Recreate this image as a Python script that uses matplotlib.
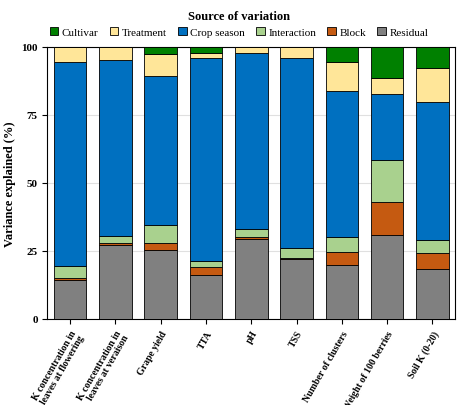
import numpy as np
import matplotlib.pyplot as plt

plt.rcParams['font.family'] = 'Liberation Serif'

categories = ['K concentration in\nleaves at flowering', 'K concentration in\nleaves at veraison',
              'Grape yield', 'TTA', 'pH', 'TSS', 'Number of clusters',
              'Weight of 100 berries', 'Soil K (0-20)']
# cumulative tops
residual = [14.3, 27.3, 25.3, 16.0, 29.2, 22.1, 19.7, 31.0, 18.4]
block_top = [14.9, 27.8, 27.8, 19.0, 30.2, 22.5, 24.6, 42.9, 24.3]
inter_top = [19.4, 30.5, 34.5, 21.4, 33.2, 26.0, 30.2, 58.6, 29.0]
crop_top = [94.3, 95.3, 89.2, 95.9, 97.8, 95.8, 83.9, 82.7, 79.7]
treat_top = [99.8, 100, 97.5, 97.9, 99.8, 100, 94.6, 88.6, 92.3]
cult_top = [100, 100, 100, 100, 100, 100, 100, 100, 100]

tops = [residual, block_top, inter_top, crop_top, treat_top, cult_top]
names = ['Residual', 'Block', 'Interaction', 'Crop season', 'Treatment', 'Cultivar']
colors = ['#808080', '#c55a11', '#a9d18e', '#0070c0', '#ffe699', '#008000']

fig, ax = plt.subplots(figsize=(4.74, 4.06), dpi=100)
x = np.arange(len(categories))
bottom = np.zeros(len(categories))
handles = {}
for top, name, c in zip(tops, names, colors):
    top = np.array(top)
    handles[name] = ax.bar(x, top - bottom, 0.72, bottom=bottom, color=c,
                           edgecolor='black', linewidth=0.6, label=name, zorder=3)
    bottom = top

order = ['Cultivar', 'Treatment', 'Crop season', 'Interaction', 'Block', 'Residual']
leg = ax.legend([handles[n] for n in order], order, ncol=6, loc='lower center',
                bbox_to_anchor=(0.47, 1.0), frameon=False, fontsize=8,
                handlelength=0.8, handletextpad=0.3, columnspacing=1.0,
                title='Source of variation', title_fontproperties={'weight': 'bold', 'size': 9})

ax.set_ylim(0, 100)
ax.set_xlim(-0.5, len(categories) - 0.5)
ax.set_yticks([0, 25, 50, 75, 100])
ax.yaxis.grid(True, color='#e0e0e0', zorder=0)
ax.set_ylabel('Variance explained (%)', fontweight='bold', fontsize=9)
ax.set_xticks(x)
ax.set_xticklabels(categories, rotation=60, ha='right', rotation_mode='anchor',
                   fontweight='bold', fontsize=7, linespacing=1.0)
ax.tick_params(axis='y', labelsize=8)
for lab in ax.get_yticklabels():
    lab.set_fontweight('bold')

plt.subplots_adjust(left=0.1, right=0.96, top=0.882, bottom=0.212)
plt.savefig('out.png', dpi=100)
